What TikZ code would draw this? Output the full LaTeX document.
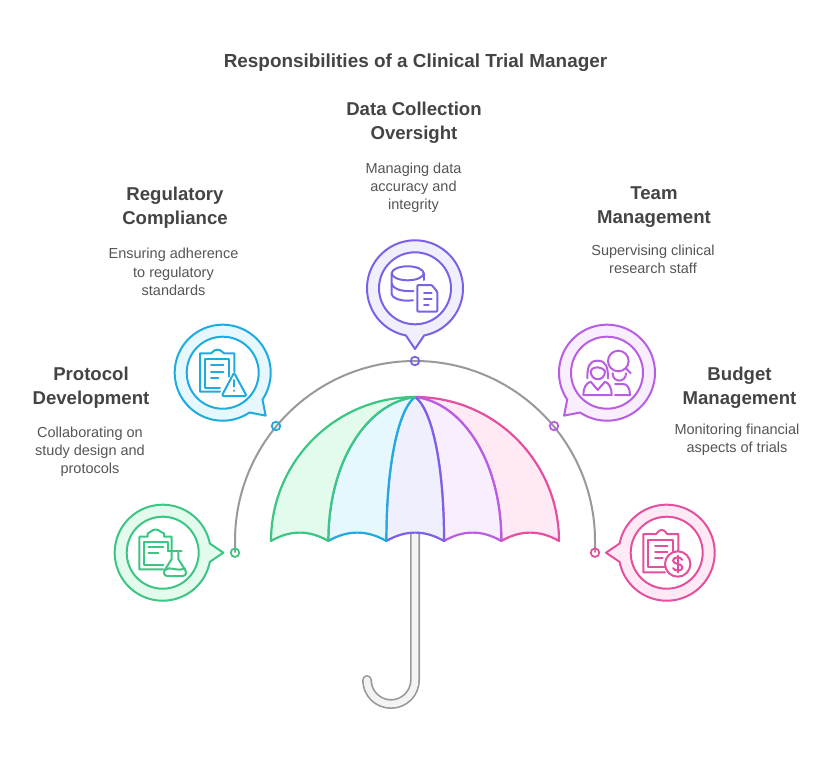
\documentclass[tikz,border=0pt]{standalone}
\usepackage{fontspec}
\setmainfont{Liberation Sans}
\definecolor{cA}{HTML}{3CC583}\definecolor{fA}{HTML}{E2FBEC}
\definecolor{cB}{HTML}{1EACE0}\definecolor{fB}{HTML}{E6F7FE}
\definecolor{cC}{HTML}{7B61E8}\definecolor{fC}{HTML}{F0EFFD}
\definecolor{cD}{HTML}{B95DE3}\definecolor{fD}{HTML}{F9EEFD}
\definecolor{cE}{HTML}{E4509F}\definecolor{fE}{HTML}{FEE9F5}
\definecolor{txtH}{HTML}{444444}\definecolor{txtB}{HTML}{555555}
\definecolor{greyl}{HTML}{999999}\definecolor{handlef}{HTML}{F3F3F3}
\tikzset{
 titletext/.style={text=txtH,font=\fontsize{18.9}{24}\selectfont\bfseries,inner sep=0pt,align=center},
 headtext/.style={text=txtH,font=\fontsize{18.6}{24}\selectfont\bfseries,inner sep=0pt,align=center},
 bodytext/.style={text=txtB,font=\fontsize{14.5}{18.2}\selectfont,inner sep=0pt,align=center},
 ring/.style={circle,draw=#1,line width=1.8pt,minimum size=8.5pt,inner sep=0pt},
 inner disc/.style={circle,draw=#1,fill=white,line width=2pt,minimum size=72pt,inner sep=0pt},
 icon/.style={draw=#1,line width=2pt,line cap=round,line join=round},
 arcline/.style={draw=greyl,line width=2pt},
 panel/.style n args={2}{draw=#1,fill=#2,line width=2.2pt,line join=round}
}
\newcommand{\umbpanel}[4]{% xL xR colour fill
 \path[panel={#3}{#4}] (415,397)
  .. controls ({415+.5523*(#1-415)},{397+14*(1-abs(#1-415)/144)}) and (#1,461.5) .. (#1,541)
  .. controls ({#1+(#2-#1)/3},529.8) and ({#1+2*(#2-#1)/3},529.8) .. (#2,541)
  .. controls (#2,461.5) and ({415+.5523*(#2-415)},{397+14*(1-abs(#2-415)/144)}) .. cycle;}
\newcommand{\bubble}[6]{% name cx cy dir colour fill
 \pgfmathsetmacro{\bubA}{#4+11}\pgfmathsetmacro{\bubB}{#4+349}
 \draw[#5,fill=#6,line width=2pt,line join=round]
  plot[domain=\bubA:\bubB,samples=120,variable=\t] ({#2+48*cos(\t)},{#3+48*sin(\t)})
  -- ({#2+60.7*cos(#4)},{#3+60.7*sin(#4)}) -- cycle;
 \node[inner disc=#5] (#1) at (#2,#3) {};}
\begin{document}
\begin{tikzpicture}[x=1pt,y=-1pt]
\useasboundingbox (0,0) rectangle (836,758);
\fill[white] (0,0) rectangle (836,758);
% texts
\node[titletext] (title) at (415.5,63) {Responsibilities of a Clinical Trial Manager};
\node[headtext] (h3) at (414,123) {Data Collection\\Oversight};
\node[bodytext] (b3) at (413.5,188) {Managing data\\accuracy and\\integrity};
\node[headtext] (h2) at (175,207.5) {Regulatory\\Compliance};
\node[bodytext] (b2) at (173.5,272) {Ensuring adherence\\to regulatory\\standards};
\node[headtext] (h1) at (91,387.5) {Protocol\\Development};
\node[bodytext] (b1) at (90,452) {Collaborating on\\study design and\\protocols};
\node[headtext] (h4) at (654,207.5) {Team\\Management};
\node[bodytext] (b4) at (653,259.5) {Supervising clinical\\research staff};
\node[headtext] (h5) at (739.5,387.5) {Budget\\Management};
\node[bodytext] (b5) at (737,440) {Monitoring financial\\aspects of trials};
% handle
\draw[greyl,line width=10pt,line cap=round] (415,530) -- (415,680) .. controls (415,693.3) and (404.3,704) .. (391,704) .. controls (377.7,704) and (367,693.3) .. (367,680);
\draw[handlef,line width=6.6pt,line cap=round] (415,530) -- (415,680) .. controls (415,693.3) and (404.3,704) .. (391,704) .. controls (377.7,704) and (367,693.3) .. (367,680);
% canopy
\umbpanel{501.3}{559}{cE}{fE}
\umbpanel{444}{501.3}{cD}{fD}
\umbpanel{386.3}{444}{cC}{fC}
\umbpanel{328.3}{386.3}{cB}{fB}
\umbpanel{271}{328.3}{cA}{fA}
% arc and rings
\coordinate (dA) at (235,552.7);
\coordinate (dC) at (415,361);
\coordinate (dE) at (595,552.7);
\draw[arcline] (dA) -- (235,541) .. controls (235,441.6) and (315.6,361) .. (dC) .. controls (514.4,361) and (595,441.6) .. (595,541) -- (dE);
\node[ring=cA] (ringA) at (dA) {};
\node[ring=cB] (ringB) at (276,426) {};
\node[ring=cC] (ringC) at (dC) {};
\node[ring=cD] (ringD) at (554,426) {};
\node[ring=cE] (ringE) at (dE) {};
% bubbles
\bubble{bA}{162.7}{552.7}{0}{cA}{fA}
\bubble{bB}{222.7}{372.7}{45}{cB}{fB}
\bubble{bC}{415}{288.3}{90}{cC}{fC}
\bubble{bD}{607}{372.7}{135}{cD}{fD}
\bubble{bE}{666.7}{552.7}{180}{cE}{fE}
% icon A
\begin{scope}[icon=cA]
\draw (163.3,569.3) -- (139.3,569.3) -- (139.3,536.7) -- (147.7,536.7) -- (147.7,533.5) .. controls (151,533) and (151,529.5) .. (155.7,529.5) .. controls (160,529.5) and (160,533) .. (164,533.5) -- (164,536.7) -- (171.7,536.7) -- (171.7,551);
\draw (163.3,565) -- (144,565) -- (144,541.7) -- (167.7,541.7) -- (167.7,551);
\draw (148.3,546.7) -- (163.3,546.7);
\draw (148.3,553.3) -- (158.3,553.3);
\draw (168.3,551) -- (181.7,551);
\draw (171.7,551) -- (171.7,559) -- (164.5,570.5) .. controls (163,574) and (165,576) .. (168,576) -- (182,576) .. controls (185,576) and (187,574) .. (185.5,570.5) -- (178.3,559) -- (178.3,551);
\draw (165,570) .. controls (170,565.5) and (176,572) .. (185,568.5);
\end{scope}
% icon B
\begin{scope}[icon=cB]
\draw (220,391.7) -- (200,391.7) -- (200,353.3) -- (211,353.3) .. controls (213,353) and (213,349.7) .. (217.5,349.7) .. controls (222,349.7) and (222,353) .. (224,353.3) -- (234.3,353.3) -- (234.3,372);
\draw (220,387.7) -- (205,387.7) -- (205,359.3) -- (229.3,359.3) -- (229.3,376.7);
\draw (211,365) -- (223.3,365);
\draw (211,371.7) -- (223.3,371.7);
\draw (211,378.3) -- (218.3,378.3);
\draw[rounded corners=1.5pt] (234,372.7) -- (221.7,396) -- (246.7,396) -- cycle;
\draw (234,380) -- (234,386.7);
\draw (234,390.7) -- (234,390.9);
\end{scope}
% icon C
\begin{scope}[icon=cC]
\draw (407.7,273.3) ellipse [x radius=16,y radius=7];
\draw (391.7,273.3) -- (391.7,294) .. controls (391.7,298) and (400,300.7) .. (407.7,300.7) -- (413,300.3);
\draw (391.7,283.3) .. controls (391.7,288) and (400,291) .. (407.7,291) -- (413.3,291);
\draw (423.7,273.3) -- (423.7,280);
\draw[rounded corners=1pt] (417.3,285) -- (431.7,285) -- (437.3,291.7) -- (437.3,311.7) -- (417.3,311.7) -- cycle;
\draw (424,293.3) -- (431.7,293.3);
\draw (424,299.3) -- (431.7,299.3);
\draw (424,305.3) -- (428.7,305.3);
\end{scope}
% icon D
\begin{scope}[icon=cD]
\draw (618.3,361) circle [radius=10.3];
\draw (626,368.3) -- (630.7,373.3);
\draw (612.7,373.3) .. controls (612.7,383) and (626,383) .. (626,373.3);
\draw (615,384) -- (623.3,384) .. controls (627,384) and (630,388) .. (630,395) -- (615,395);
\draw (587.3,378.3) .. controls (587.3,367) and (589,360.7) .. (597.7,360.7) .. controls (606,360.7) and (608,367) .. (608,378.3);
\draw (590.7,371) .. controls (590.7,382) and (605,382) .. (605,371) .. controls (602,367) and (594,365) .. (590.7,371);
\draw (583.3,395) .. controls (583.3,388) and (586,383) .. (590.7,381.7) -- (597.7,390) -- (605,381.7) .. controls (609,383) and (611.7,388) .. (611.7,395) -- cycle;
\end{scope}
% icon E
\begin{scope}[icon=cE]
\draw (665,572.3) -- (643.3,572.3) -- (643.3,534) -- (656,534) .. controls (658,533.5) and (658,530) .. (661.7,530) .. controls (665.5,530) and (665.5,533.5) .. (667.3,534) -- (678.3,534) -- (678.3,551);
\draw (665,567.3) -- (648.3,567.3) -- (648.3,540) -- (673.3,540) -- (673.3,551.5);
\draw (655,546) -- (667.3,546);
\draw (655,552.3) -- (667.3,552.3);
\draw (655,558.3) -- (662.7,558.3);
\draw[fill=white] (677.7,564) circle [radius=12.7];
\draw (682.3,560) .. controls (681,556.5) and (673,556.5) .. (673,560.5) .. controls (673,565) and (682.5,563) .. (682.5,567.5) .. controls (682.5,571.5) and (674,571.5) .. (673,568);
\draw (677.7,555.5) -- (677.7,572.5);
\end{scope}
\end{tikzpicture}
\end{document}
